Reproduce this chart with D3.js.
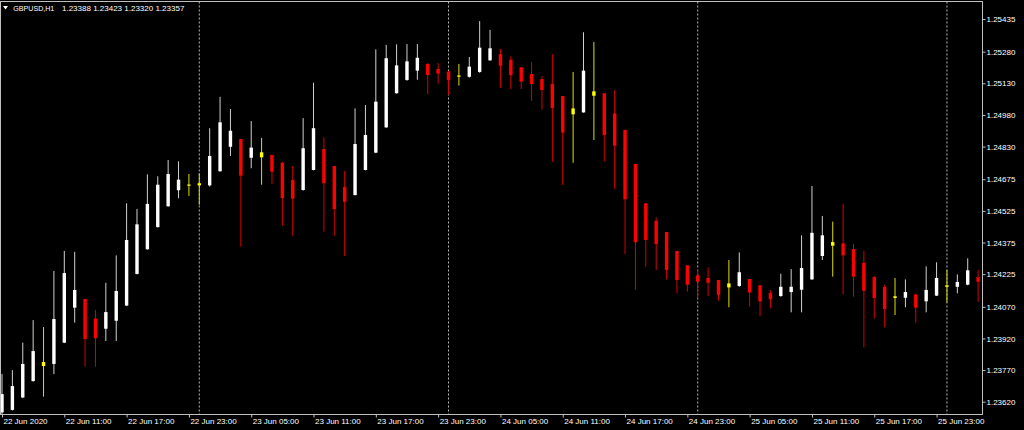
<!DOCTYPE html>
<html>
<head>
<meta charset="utf-8">
<script src="https://cdn.jsdelivr.net/npm/d3@7"></script>
<style>
  html, body { margin: 0; padding: 0; background: #000; }
  svg { display: block; }
  text { font-family: "Liberation Sans", Arial, sans-serif; font-size: 8px; fill: #ffffff; }
</style>
</head>
<body>
<svg id="chart" width="1024" height="430"></svg>
<script>
// ---- Data (GBPUSD H1, 22 Jun 2020 05:00 onward) ----
const symbolLabel = "GBPUSD,H1";
const headerValues = ["1.23388", "1.23423", "1.23320", "1.23357"];
const startTime = Date.UTC(2020, 5, 22, 5, 0);

const openP = [1.23569,1.23581,1.23640,1.23718,1.23808,1.23799,1.23900,1.24066,1.24107,1.24014,
  1.23966,1.24004,1.24076,1.24226,1.24343,1.24448,1.24547,1.24623,1.24650,1.24656,
  1.24646,1.24713,1.24829,1.24866,1.24777,1.24803,1.24790,1.24753,1.24671,1.24624,
  1.24719,1.24818,1.24738,1.24638,1.24600,1.24719,1.24801,1.24921,1.25083,1.25146,
  1.25190,1.25222,1.25198,1.25186,1.25167,1.25161,1.25184,1.25239,1.25268,1.25242,
  1.25206,1.25174,1.25150,1.25127,1.25070,1.25011,1.24992,1.25092,1.25083,1.24987,
  1.24909,1.24747,1.24561,1.24478,1.24425,1.24335,1.24267,1.24219,1.24207,1.24197,
  1.24181,1.24169,1.24202,1.24172,1.24135,1.24121,1.24140,1.24151,1.24200,1.24311,
  1.24377,1.24371,1.24344,1.24279,1.24211,1.24164,1.24120,1.24113,1.24129,1.24096,
  1.24123,1.24172,1.24165,1.24175,1.24210];
const highP = [1.23751,1.23770,1.23900,1.24007,1.23974,1.24240,1.24335,1.24331,1.24108,1.24055,
  1.24184,1.24314,1.24561,1.24534,1.24698,1.24689,1.24766,1.24760,1.24700,1.24703,
  1.24917,1.25066,1.25008,1.24866,1.24951,1.24871,1.24790,1.24758,1.24738,1.24965,
  1.25133,1.24874,1.24738,1.24714,1.25011,1.25027,1.25291,1.25312,1.25315,1.25316,
  1.25316,1.25225,1.25226,1.25188,1.25222,1.25255,1.25425,1.25383,1.25293,1.25258,
  1.25206,1.25231,1.25165,1.25268,1.25070,1.25184,1.25372,1.25326,1.25083,1.25098,
  1.24909,1.24747,1.24561,1.24494,1.24425,1.24335,1.24267,1.24245,1.24257,1.24197,
  1.24292,1.24328,1.24202,1.24172,1.24150,1.24227,1.24249,1.24409,1.24643,1.24501,
  1.24474,1.24559,1.24368,1.24335,1.24216,1.24175,1.24207,1.24200,1.24129,1.24262,
  1.24281,1.24245,1.24224,1.24300,1.24245];
const lowP = [1.23562,1.23578,1.23637,1.23715,1.23644,1.23751,1.23898,1.23995,1.23786,1.23786,
  1.23908,1.23908,1.24074,1.24224,1.24341,1.24446,1.24545,1.24585,1.24596,1.24554,
  1.24640,1.24711,1.24785,1.24355,1.24727,1.24649,1.24652,1.24455,1.24406,1.24621,
  1.24717,1.24426,1.24407,1.24311,1.24598,1.24717,1.24799,1.24919,1.25081,1.25142,
  1.25147,1.25078,1.25128,1.25075,1.25119,1.25157,1.25180,1.25237,1.25109,1.25102,
  1.25103,1.25047,1.25005,1.24758,1.24648,1.24753,1.24991,1.24861,1.24759,1.24629,
  1.24320,1.24150,1.24260,1.24245,1.24200,1.24134,1.24142,1.24110,1.24121,1.24099,
  1.24068,1.24165,1.24071,1.24026,1.24063,1.24118,1.24044,1.24044,1.24198,1.24292,
  1.24213,1.24129,1.24118,1.23878,1.24014,1.23973,1.24031,1.24068,1.23995,1.24044,
  1.24121,1.24091,1.24134,1.24172,1.24093];
const closeP = [1.23656,1.23694,1.23799,1.23860,1.23789,1.24012,1.24230,1.24150,1.23917,1.23921,
  1.24045,1.24145,1.24387,1.24461,1.24558,1.24649,1.24700,1.24673,1.24645,1.24646,
  1.24785,1.24945,1.24905,1.24692,1.24825,1.24779,1.24711,1.24586,1.24583,1.24822,
  1.24917,1.24656,1.24534,1.24568,1.24842,1.24885,1.25043,1.25249,1.25215,1.25234,
  1.25251,1.25169,1.25176,1.25146,1.25162,1.25209,1.25299,1.25296,1.25213,1.25169,
  1.25138,1.25127,1.25098,1.25013,1.24896,1.24983,1.25190,1.25071,1.24885,1.24834,
  1.24580,1.24376,1.24387,1.24368,1.24245,1.24197,1.24175,1.24189,1.24184,1.24127,
  1.24162,1.24234,1.24138,1.24096,1.24106,1.24165,1.24165,1.24254,1.24421,1.24409,
  1.24360,1.24314,1.24213,1.24146,1.24112,1.24060,1.24112,1.24140,1.24066,1.24150,
  1.24207,1.24165,1.24188,1.24243,1.24189];
// bars painted in the neutral (yellow) colour
const neutralBars = [4, 18, 19, 25, 44, 55, 57, 70, 80, 86, 91];

const priceTicks = [1.25435,1.25280,1.25130,1.24980,1.24830,1.24675,1.24525,1.24375,1.24225,1.24070,1.23920,1.23770,1.23620];
const timeTickBars = [0,6,12,18,24,30,36,42,48,54,60,66,72,78,84,90];
const timeTickLabels = ["22 Jun 2020","22 Jun 11:00","22 Jun 17:00","22 Jun 23:00","23 Jun 05:00","23 Jun 11:00",
  "23 Jun 17:00","23 Jun 23:00","24 Jun 05:00","24 Jun 11:00","24 Jun 17:00","24 Jun 23:00",
  "25 Jun 05:00","25 Jun 11:00","25 Jun 17:00","25 Jun 23:00"];

// ---- Build ----
const bars = openP.map((o, i) => ({
  i, o, h: highP[i], l: lowP[i], c: closeP[i],
  t: new Date(startTime + i * 3600000),
  kind: neutralBars.includes(i) ? "n" : (closeP[i] >= o ? "up" : "down")
}));

const svg = d3.select("#chart");
const plotLeft = 0.5, plotRight = 982.5, plotTop = 1.5, plotBottom = 414.5;

const x = d3.scaleLinear().domain([0, bars.length - 1]).range([2, 978.1]);
const y = d3.scaleLinear().domain([1.23620, 1.25435]).range([401.7, 19]);

const bodyFill = { up: "#ffffff", down: "#ff0000", n: "#ffff00" };
const wickCol = { up: "#d0d0d0", down: "#d80000", n: "#dcdc00" };

// day separators (dotted)
const seps = bars.filter(b => b.t.getUTCHours() === 0);
svg.append("g").selectAll("line").data(seps).join("line")
  .attr("x1", b => x(b.i)).attr("x2", b => x(b.i))
  .attr("y1", plotTop).attr("y2", plotBottom)
  .attr("stroke", "#b4b4b4").attr("stroke-width", 1)
  .attr("stroke-dasharray", "2,2");

// candles
const cg = svg.append("g");
cg.selectAll("line.wick").data(bars).join("line")
  .attr("class", "wick")
  .attr("x1", b => x(b.i)).attr("x2", b => x(b.i))
  .attr("y1", b => y(b.h)).attr("y2", b => y(b.l))
  .attr("stroke", b => wickCol[b.kind]).attr("stroke-width", 1);

const bw = 3.4;
cg.selectAll("rect.body").data(bars).join("rect")
  .attr("class", "body")
  .attr("x", b => x(b.i) - bw / 2)
  .attr("width", bw)
  .attr("y", b => Math.min(y(b.o), y(b.c)))
  .attr("height", b => Math.max(1.2, Math.abs(y(b.o) - y(b.c))))
  .attr("fill", b => bodyFill[b.kind]);

// frame
svg.append("rect")
  .attr("x", plotLeft).attr("y", plotTop)
  .attr("width", plotRight - plotLeft).attr("height", plotBottom - plotTop)
  .attr("fill", "none").attr("stroke", "#c0c0c0").attr("stroke-width", 1);

// right price axis
const yAxis = d3.axisRight(y).tickValues(priceTicks).tickSize(3).tickPadding(1)
  .tickFormat(d3.format(".5f"));
const ya = svg.append("g").attr("transform", `translate(${plotRight},0)`).call(yAxis);
ya.select(".domain").remove();
ya.selectAll(".tick line").attr("stroke", "#c0c0c0");
ya.selectAll(".tick text").attr("fill", "#ffffff").attr("font-size", 8)
  .attr("font-family", "Liberation Sans, Arial, sans-serif");

// bottom time axis
const xAxis = d3.axisBottom(x).tickValues(timeTickBars).tickSize(3).tickPadding(1)
  .tickFormat((d, k) => timeTickLabels[k]);
const xa = svg.append("g").attr("transform", `translate(0,${plotBottom})`).call(xAxis);
xa.select(".domain").remove();
xa.selectAll(".tick line").attr("stroke", "#c0c0c0");
xa.selectAll(".tick text").attr("fill", "#ffffff").attr("font-size", 8)
  .attr("font-family", "Liberation Sans, Arial, sans-serif")
  .attr("text-anchor", "start").attr("x", 1);

// header
svg.append("path").attr("d", "M3,6 L8,6 L5.5,9.5 Z").attr("fill", "#ffffff");
svg.append("text").attr("x", 13.3).attr("y", 10.5).text(symbolLabel)
  .attr("textLength", 41).attr("lengthAdjust", "spacingAndGlyphs");
svg.append("text").attr("x", 62).attr("y", 10.5).text(headerValues.join(" "));
</script>
</body>
</html>
